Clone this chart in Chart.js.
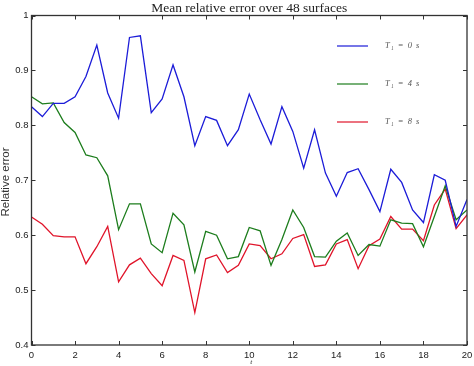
<!DOCTYPE html>
<html>
<head>
<meta charset="utf-8">
<script src="https://cdn.jsdelivr.net/npm/chart.js@4.4.1/dist/chart.umd.min.js"></script>
<style>
html,body{margin:0;padding:0;background:#fff;}
#wrap{position:relative;width:474px;height:366px;}
</style>
</head>
<body>
<div id="wrap"><canvas id="c" width="474" height="366"></canvas></div>
<script>
const titleText = "Mean relative error over 48 surfaces";
const yTitle = "Relative error";
const xTitle = "t";
const seriesNames = ["T\u2081 = 0 s", "T\u2081 = 4 s", "T\u2081 = 8 s"];
const seriesColors = ["#1c1cd8", "#1d7d1d", "#e0142a"];

const tValues = [0,0.5,1,1.5,2,2.5,3,3.5,4,4.5,5,5.5,6,6.5,7,7.5,8,8.5,9,9.5,10,10.5,11,11.5,12,12.5,13,13.5,14,14.5,15,15.5,16,16.5,17,17.5,18,18.5,19,19.5,20];

const errT0 = [0.834,0.816,0.840,0.840,0.852,0.889,0.946,0.859,0.813,0.960,0.963,0.823,0.848,0.910,0.852,0.763,0.816,0.809,0.763,0.792,0.857,0.810,0.766,0.834,0.789,0.722,0.792,0.713,0.671,0.714,0.721,0.683,0.643,0.720,0.696,0.646,0.623,0.710,0.700,0.616,0.665];
const errT4 = [0.852,0.839,0.841,0.805,0.787,0.746,0.741,0.708,0.610,0.657,0.657,0.584,0.568,0.640,0.619,0.533,0.607,0.600,0.557,0.561,0.614,0.608,0.545,0.592,0.646,0.614,0.561,0.560,0.589,0.604,0.563,0.583,0.580,0.628,0.622,0.621,0.579,0.634,0.690,0.628,0.646];
const errT8 = [0.633,0.620,0.599,0.597,0.597,0.548,0.579,0.616,0.515,0.546,0.558,0.530,0.508,0.563,0.554,0.459,0.557,0.564,0.532,0.545,0.584,0.581,0.557,0.566,0.594,0.601,0.543,0.546,0.584,0.592,0.539,0.581,0.593,0.634,0.611,0.611,0.590,0.655,0.684,0.612,0.637];

const xTicks = [0,2,4,6,8,10,12,14,16,18,20];
const yTicks = [0.4,0.5,0.6,0.7,0.8,0.9,1];

function pts(arr){ return arr.map((v,i)=>({x:tValues[i], y:v})); }
const allSeries = [errT0, errT4, errT8];

const decor = {
  id:'decor',
  afterDraw(chart){
    const ctx = chart.ctx, a = chart.chartArea;
    const xs = chart.scales.x, ys = chart.scales.y;
    ctx.save();
    ctx.strokeStyle = '#333';
    ctx.lineWidth = 1.3;
    ctx.strokeRect(a.left, a.top, a.right-a.left, a.bottom-a.top);
    ctx.lineWidth = 1;
    ctx.beginPath();
    const tl = 4;
    xTicks.forEach(v=>{
      const px = Math.round(xs.getPixelForValue(v))+0.5;
      ctx.moveTo(px, a.bottom); ctx.lineTo(px, a.bottom-tl);
      ctx.moveTo(px, a.top); ctx.lineTo(px, a.top+tl);
    });
    yTicks.forEach(v=>{
      const py = Math.round(ys.getPixelForValue(v))+0.5;
      ctx.moveTo(a.left, py); ctx.lineTo(a.left+tl, py);
      ctx.moveTo(a.right, py); ctx.lineTo(a.right-tl, py);
    });
    ctx.stroke();
    ctx.fillStyle = '#222';
    ctx.font = '13.5px "Liberation Serif", "DejaVu Serif", serif';
    ctx.textAlign = 'center';
    ctx.textBaseline = 'middle';
    ctx.fillText(titleText, (a.left+a.right)/2, 8);
    ctx.font = 'italic 7px "Liberation Serif", serif';
    ctx.fillText(xTitle, (a.left+a.right)/2 + 2, 362);
    ctx.save();
    ctx.translate(6, 182);
    ctx.rotate(-Math.PI/2);
    ctx.font = '11.5px "Liberation Sans", Arial, sans-serif';
    ctx.fillStyle = '#333';
    ctx.fillText(yTitle, 0, 0);
    ctx.restore();
    const ly = [46, 84, 122];
    chart.data.datasets.forEach((ds,i)=>{
      ctx.strokeStyle = ds.borderColor;
      ctx.globalAlpha = 0.8;
      ctx.lineWidth = 1.5;
      ctx.beginPath();
      ctx.moveTo(337, ly[i]); ctx.lineTo(368, ly[i]);
      ctx.stroke();
      ctx.globalAlpha = 1;
      ctx.fillStyle = '#555';
      ctx.font = 'italic 8.5px "Liberation Serif", "DejaVu Serif", serif';
      ctx.textAlign = 'left';
      if ('letterSpacing' in ctx) ctx.letterSpacing = '1px';
      ctx.fillText(ds.label, 385, ly[i]);
      if ('letterSpacing' in ctx) ctx.letterSpacing = '0px';
    });
    ctx.restore();
  }
};

new Chart(document.getElementById('c'), {
  type: 'line',
  data: {
    datasets: allSeries.map((s,i)=>({
      label: seriesNames[i],
      data: pts(s),
      borderColor: seriesColors[i],
      backgroundColor: seriesColors[i],
      borderWidth: 1.3,
      pointRadius: 0,
      tension: 0,
      fill: false
    }))
  },
  options: {
    responsive: false,
    animation: false,
    layout: { padding: { top: 15.5, right: 7, left: 0, bottom: 0 } },
    plugins: { legend: { display: false }, title: { display: false }, tooltip: { enabled: false } },
    scales: {
      x: {
        type: 'linear', min: 0, max: 20,
        afterBuildTicks(s){ s.ticks = xTicks.map(v=>({value:v})); },
        afterFit(s){ s.height = 21; s.paddingLeft = 0; s.paddingRight = 0; },
        grid: { display: false, drawTicks: false },
        border: { display: false },
        ticks: { padding: 5, color: '#222', font: { family: '"Liberation Sans", Arial, sans-serif', size: 9.5 }, maxRotation: 0, autoSkip: false,
          callback: v => String(v) }
      },
      y: {
        type: 'linear', min: 0.4, max: 1,
        afterBuildTicks(s){ s.ticks = yTicks.map(v=>({value:v})); },
        afterFit(s){ s.width = 31.5; s.paddingTop = 0; s.paddingBottom = 0; },
        grid: { display: false, drawTicks: false },
        border: { display: false },
        ticks: { padding: 3, color: '#222', font: { family: '"Liberation Sans", Arial, sans-serif', size: 9.5 }, autoSkip: false,
          callback: v => String(Math.round(v*10)/10) }
      }
    }
  },
  plugins: [decor]
});
</script>
</body>
</html>
